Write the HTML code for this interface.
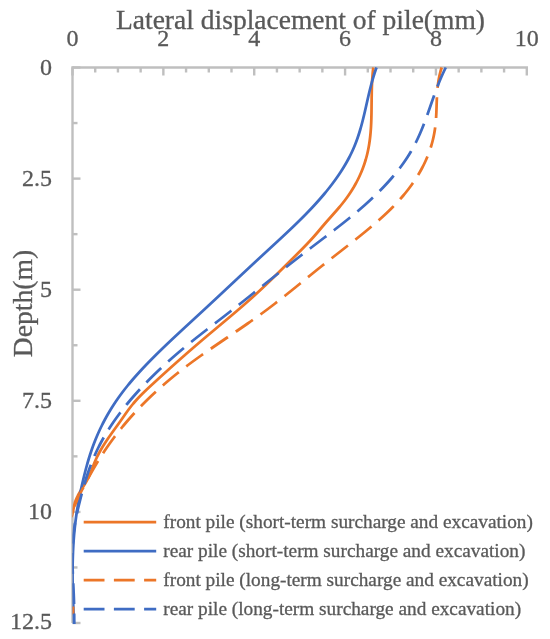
<!DOCTYPE html>
<html><head><meta charset="utf-8"><style>
html,body{margin:0;padding:0;background:#fff;}
svg{display:block;}
text{font-family:"Liberation Serif","Times New Roman",serif;fill:#595959;stroke:#595959;stroke-width:0.3px;}
.lg{font-size:19.3px;}
</style></head><body>
<svg width="550" height="639" viewBox="0 0 550 639">
<rect width="550" height="639" fill="#fff"/>
<g stroke="#BFBFBF" stroke-width="2.4" fill="none">
<line x1="72.5" y1="67.5" x2="528.0" y2="67.5"/>
<line x1="72.5" y1="66.3" x2="72.5" y2="623.0"/>
<line x1="72.50" y1="67.5" x2="72.50" y2="75.5"/><line x1="95.22" y1="67.5" x2="95.22" y2="72.5"/><line x1="117.93" y1="67.5" x2="117.93" y2="72.5"/><line x1="140.64" y1="67.5" x2="140.64" y2="72.5"/><line x1="163.36" y1="67.5" x2="163.36" y2="75.5"/><line x1="186.07" y1="67.5" x2="186.07" y2="72.5"/><line x1="208.79" y1="67.5" x2="208.79" y2="72.5"/><line x1="231.50" y1="67.5" x2="231.50" y2="72.5"/><line x1="254.22" y1="67.5" x2="254.22" y2="75.5"/><line x1="276.94" y1="67.5" x2="276.94" y2="72.5"/><line x1="299.65" y1="67.5" x2="299.65" y2="72.5"/><line x1="322.36" y1="67.5" x2="322.36" y2="72.5"/><line x1="345.08" y1="67.5" x2="345.08" y2="75.5"/><line x1="367.79" y1="67.5" x2="367.79" y2="72.5"/><line x1="390.51" y1="67.5" x2="390.51" y2="72.5"/><line x1="413.22" y1="67.5" x2="413.22" y2="72.5"/><line x1="435.94" y1="67.5" x2="435.94" y2="75.5"/><line x1="458.65" y1="67.5" x2="458.65" y2="72.5"/><line x1="481.37" y1="67.5" x2="481.37" y2="72.5"/><line x1="504.08" y1="67.5" x2="504.08" y2="72.5"/><line x1="526.80" y1="67.5" x2="526.80" y2="75.5"/><line x1="72.5" y1="67.50" x2="80.5" y2="67.50"/><line x1="72.5" y1="123.05" x2="77.5" y2="123.05"/><line x1="72.5" y1="178.60" x2="80.5" y2="178.60"/><line x1="72.5" y1="234.15" x2="77.5" y2="234.15"/><line x1="72.5" y1="289.70" x2="80.5" y2="289.70"/><line x1="72.5" y1="345.25" x2="77.5" y2="345.25"/><line x1="72.5" y1="400.80" x2="80.5" y2="400.80"/><line x1="72.5" y1="456.35" x2="77.5" y2="456.35"/><line x1="72.5" y1="511.90" x2="80.5" y2="511.90"/><line x1="72.5" y1="567.45" x2="77.5" y2="567.45"/><line x1="72.5" y1="623.00" x2="80.5" y2="623.00"/>
</g>
<g font-size="24"><text transform="translate(72.50,46.3)" text-anchor="middle">0</text><text transform="translate(163.36,46.3)" text-anchor="middle">2</text><text transform="translate(254.22,46.3)" text-anchor="middle">4</text><text transform="translate(345.08,46.3)" text-anchor="middle">6</text><text transform="translate(435.94,46.3)" text-anchor="middle">8</text><text transform="translate(526.80,46.3)" text-anchor="middle">10</text><text transform="translate(52.0,75.35)" text-anchor="end">0</text><text transform="translate(52.0,185.50)" text-anchor="end">2.5</text><text transform="translate(52.0,297.10)" text-anchor="end">5</text><text transform="translate(52.0,407.50)" text-anchor="end">7.5</text><text transform="translate(52.0,518.90)" text-anchor="end">10</text><text transform="translate(52.0,629.05)" text-anchor="end">12.5</text></g>
<text x="116" y="29" font-size="27" textLength="369" lengthAdjust="spacingAndGlyphs">Lateral displacement of pile(mm)</text>
<text transform="translate(32.1,357.2) rotate(-90)" font-size="27.6">Depth(m)</text>
<defs><clipPath id="pa"><rect x="72.5" y="40" width="480" height="586.0"/></clipPath></defs>
<g fill="none" stroke-width="2.75" stroke-linecap="butt" stroke-linejoin="round" clip-path="url(#pa)">
<path d="M373.33,67.50 L373.09,69.50 L372.87,71.50 L372.68,73.50 L372.51,75.50 L372.36,77.50 L372.22,79.50 L372.11,81.50 L372.01,83.50 L371.93,85.50 L371.86,87.50 L371.80,89.50 L371.75,91.50 L371.71,93.50 L371.68,95.50 L371.65,97.50 L371.63,99.50 L371.61,101.50 L371.59,103.50 L371.57,105.50 L371.55,107.50 L371.53,109.50 L371.50,111.50 L371.47,113.50 L371.43,115.50 L371.38,117.50 L371.32,119.50 L371.25,121.50 L371.17,123.50 L371.07,125.50 L370.96,127.50 L370.82,129.50 L370.67,131.50 L370.50,133.50 L370.31,135.50 L370.09,137.50 L369.85,139.50 L369.58,141.50 L369.29,143.50 L368.97,145.50 L368.61,147.50 L368.22,149.50 L367.80,151.50 L367.35,153.50 L366.86,155.50 L366.33,157.50 L365.77,159.50 L365.16,161.50 L364.52,163.50 L363.84,165.50 L363.12,167.50 L362.36,169.50 L361.56,171.50 L360.71,173.50 L359.82,175.50 L358.89,177.50 L357.91,179.50 L356.89,181.50 L355.82,183.50 L354.70,185.50 L353.54,187.50 L352.32,189.50 L351.06,191.50 L349.75,193.50 L348.38,195.50 L346.97,197.50 L345.50,199.50 L343.97,201.50 L342.40,203.50 L340.77,205.50 L339.09,207.50 L337.38,209.50 L335.64,211.50 L333.87,213.50 L332.10,215.50 L330.32,217.50 L328.54,219.50 L326.77,221.50 L325.03,223.50 L323.31,225.50 L321.62,227.50 L319.95,229.50 L318.27,231.50 L316.57,233.50 L314.83,235.50 L313.05,237.50 L311.23,239.50 L309.37,241.50 L307.49,243.50 L305.57,245.50 L303.63,247.50 L301.67,249.50 L299.69,251.50 L297.70,253.50 L295.70,255.50 L293.69,257.50 L291.67,259.50 L289.65,261.50 L287.64,263.50 L285.62,265.50 L283.60,267.50 L281.58,269.50 L279.56,271.50 L277.53,273.50 L275.50,275.50 L273.45,277.50 L271.40,279.50 L269.34,281.50 L267.26,283.50 L265.17,285.50 L263.06,287.50 L260.94,289.50 L258.79,291.50 L256.63,293.50 L254.45,295.50 L252.24,297.50 L250.01,299.50 L247.76,301.50 L245.49,303.50 L243.19,305.50 L240.88,307.50 L238.56,309.50 L236.22,311.50 L233.87,313.50 L231.50,315.50 L229.13,317.50 L226.75,319.50 L224.37,321.50 L221.98,323.50 L219.59,325.50 L217.20,327.50 L214.81,329.50 L212.42,331.50 L210.03,333.50 L207.65,335.50 L205.28,337.50 L202.92,339.50 L200.57,341.50 L198.23,343.50 L195.89,345.50 L193.57,347.50 L191.26,349.50 L188.96,351.50 L186.66,353.50 L184.38,355.50 L182.10,357.50 L179.84,359.50 L177.58,361.50 L175.33,363.50 L173.08,365.50 L170.85,367.50 L168.62,369.50 L166.40,371.50 L164.19,373.50 L161.98,375.50 L159.78,377.50 L157.59,379.50 L155.41,381.50 L153.23,383.50 L151.06,385.50 L148.91,387.50 L146.78,389.50 L144.69,391.50 L142.64,393.50 L140.65,395.50 L138.71,397.50 L136.85,399.50 L135.06,401.50 L133.35,403.50 L131.72,405.50 L130.15,407.50 L128.64,409.50 L127.18,411.50 L125.76,413.50 L124.36,415.50 L122.97,417.50 L121.58,419.50 L120.16,421.50 L118.73,423.50 L117.29,425.50 L115.84,427.50 L114.39,429.50 L112.95,431.50 L111.52,433.50 L110.10,435.50 L108.70,437.50 L107.34,439.50 L106.00,441.50 L104.70,443.50 L103.43,445.50 L102.21,447.50 L101.02,449.50 L99.89,451.50 L98.80,453.50 L97.76,455.50 L96.77,457.50 L95.84,459.50 L94.96,461.50 L94.14,463.50 L93.36,465.50 L92.59,467.50 L91.83,469.50 L91.05,471.50 L90.24,473.50 L89.37,475.50 L88.44,477.50 L87.42,479.50 L86.32,481.50 L85.14,483.50 L83.92,485.50 L82.67,487.50 L81.43,489.50 L80.21,491.50 L79.04,493.50 L77.93,495.50 L76.93,497.50 L76.04,499.50 L75.29,501.50 L74.69,503.50 L74.20,505.50 L73.77,507.50 L73.36,509.50 L72.95,511.50 L72.47,513.50 L71.90,515.50 L71.38,517.00" stroke="#EC7628"/><path d="M376.51,67.50 L375.80,69.50 L375.11,71.50 L374.45,73.50 L373.82,75.50 L373.21,77.50 L372.62,79.50 L372.05,81.50 L371.50,83.50 L370.97,85.50 L370.46,87.50 L369.96,89.50 L369.47,91.50 L368.99,93.50 L368.52,95.50 L368.06,97.50 L367.60,99.50 L367.15,101.50 L366.70,103.50 L366.25,105.50 L365.80,107.50 L365.34,109.50 L364.89,111.50 L364.42,113.50 L363.95,115.50 L363.46,117.50 L362.97,119.50 L362.46,121.50 L361.94,123.50 L361.40,125.50 L360.84,127.50 L360.27,129.50 L359.67,131.50 L359.05,133.50 L358.40,135.50 L357.73,137.50 L357.03,139.50 L356.30,141.50 L355.53,143.50 L354.74,145.50 L353.91,147.50 L353.04,149.50 L352.13,151.50 L351.19,153.50 L350.21,155.50 L349.18,157.50 L348.12,159.50 L347.02,161.50 L345.89,163.50 L344.71,165.50 L343.50,167.50 L342.26,169.50 L340.98,171.50 L339.66,173.50 L338.31,175.50 L336.92,177.50 L335.50,179.50 L334.04,181.50 L332.56,183.50 L331.03,185.50 L329.48,187.50 L327.89,189.50 L326.28,191.50 L324.63,193.50 L322.95,195.50 L321.23,197.50 L319.49,199.50 L317.72,201.50 L315.92,203.50 L314.09,205.50 L312.23,207.50 L310.34,209.50 L308.43,211.50 L306.49,213.50 L304.53,215.50 L302.54,217.50 L300.53,219.50 L298.50,221.50 L296.45,223.50 L294.39,225.50 L292.30,227.50 L290.21,229.50 L288.09,231.50 L285.97,233.50 L283.84,235.50 L281.70,237.50 L279.54,239.50 L277.39,241.50 L275.22,243.50 L273.06,245.50 L270.89,247.50 L268.72,249.50 L266.55,251.50 L264.38,253.50 L262.21,255.50 L260.05,257.50 L257.89,259.50 L255.74,261.50 L253.58,263.50 L251.44,265.50 L249.29,267.50 L247.15,269.50 L245.01,271.50 L242.87,273.50 L240.73,275.50 L238.59,277.50 L236.45,279.50 L234.32,281.50 L232.18,283.50 L230.05,285.50 L227.91,287.50 L225.78,289.50 L223.64,291.50 L221.50,293.50 L219.36,295.50 L217.22,297.50 L215.08,299.50 L212.93,301.50 L210.78,303.50 L208.63,305.50 L206.48,307.50 L204.32,309.50 L202.16,311.50 L199.99,313.50 L197.83,315.50 L195.65,317.50 L193.48,319.50 L191.31,321.50 L189.14,323.50 L186.97,325.50 L184.80,327.50 L182.64,329.50 L180.48,331.50 L178.33,333.50 L176.18,335.50 L174.04,337.50 L171.91,339.50 L169.79,341.50 L167.69,343.50 L165.59,345.50 L163.51,347.50 L161.44,349.50 L159.38,351.50 L157.34,353.50 L155.32,355.50 L153.32,357.50 L151.34,359.50 L149.37,361.50 L147.43,363.50 L145.51,365.50 L143.61,367.50 L141.74,369.50 L139.89,371.50 L138.07,373.50 L136.27,375.50 L134.50,377.50 L132.77,379.50 L131.06,381.50 L129.38,383.50 L127.74,385.50 L126.13,387.50 L124.55,389.50 L123.01,391.50 L121.51,393.50 L120.03,395.50 L118.60,397.50 L117.19,399.50 L115.82,401.50 L114.49,403.50 L113.18,405.50 L111.91,407.50 L110.67,409.50 L109.46,411.50 L108.28,413.50 L107.13,415.50 L106.02,417.50 L104.93,419.50 L103.87,421.50 L102.83,423.50 L101.83,425.50 L100.85,427.50 L99.90,429.50 L98.98,431.50 L98.08,433.50 L97.21,435.50 L96.37,437.50 L95.54,439.50 L94.75,441.50 L93.97,443.50 L93.22,445.50 L92.50,447.50 L91.79,449.50 L91.11,451.50 L90.44,453.50 L89.80,455.50 L89.17,457.50 L88.56,459.50 L87.97,461.50 L87.39,463.50 L86.83,465.50 L86.28,467.50 L85.75,469.50 L85.23,471.50 L84.72,473.50 L84.22,475.50 L83.73,477.50 L83.25,479.50 L82.78,481.50 L82.32,483.50 L81.86,485.50 L81.42,487.50 L80.99,489.50 L80.56,491.50 L80.14,493.50 L79.74,495.50 L79.34,497.50 L78.96,499.50 L78.59,501.50 L78.22,503.50 L77.87,505.50 L77.53,507.50 L77.20,509.50 L76.89,511.50 L76.58,513.50 L76.29,515.50 L76.01,517.50 L75.75,519.50 L75.49,521.50 L75.25,523.50 L75.02,525.50 L74.80,527.50 L74.60,529.50 L74.40,531.50 L74.22,533.50 L74.04,535.50 L73.88,537.50 L73.73,539.50 L73.59,541.50 L73.46,543.50 L73.33,545.50 L73.22,547.50 L73.12,549.50 L73.02,551.50 L72.94,553.50 L72.87,555.50 L72.80,557.50 L72.74,559.50 L72.69,561.50 L72.65,563.50 L72.61,565.50 L72.59,567.50 L72.57,569.50 L72.56,571.50 L72.55,573.50 L72.55,575.50 L72.56,577.50 L72.58,579.50 L72.60,581.50 L72.63,583.50 L72.66,585.50 L72.70,587.50 L72.75,589.50 L72.80,591.50 L72.85,593.50 L72.91,595.50 L72.98,597.50 L73.05,599.50 L73.12,601.50 L73.20,603.50 L73.28,605.50 L73.36,607.50 L73.45,609.50 L73.54,611.50 L73.64,613.50 L73.74,615.50 L73.84,617.50 L73.94,619.50 L74.05,621.50 L74.15,623.50 L74.18,624.00" stroke="#3F6CC3"/>
<line x1="73.1" y1="606.5" x2="73.1" y2="614.5" stroke="#EC7628"/>
<path d="M441.70,67.50 L441.06,69.50 L440.48,71.50 L439.96,73.50 L439.49,75.50 L439.08,77.50 L438.70,79.50 L438.38,81.50 L438.09,83.50 L437.83,85.50 L437.62,87.50 L437.43,89.50 L437.27,91.50 L437.13,93.50 L437.01,95.50 L436.91,97.50 L436.82,99.50 L436.74,101.50 L436.67,103.50 L436.60,105.50 L436.54,107.50 L436.47,109.50 L436.39,111.50 L436.31,113.50 L436.21,115.50 L436.10,117.50 L435.96,119.50 L435.81,121.50 L435.63,123.50 L435.42,125.50 L435.17,127.50 L434.89,129.50 L434.58,131.50 L434.23,133.50 L433.84,135.50 L433.42,137.50 L432.96,139.50 L432.46,141.50 L431.92,143.50 L431.34,145.50 L430.73,147.50 L430.07,149.50 L429.38,151.50 L428.64,153.50 L427.87,155.50 L427.06,157.50 L426.20,159.50 L425.30,161.50 L424.36,163.50 L423.38,165.50 L422.35,167.50 L421.29,169.50 L420.18,171.50 L419.02,173.50 L417.82,175.50 L416.58,177.50 L415.29,179.50 L413.96,181.50 L412.58,183.50 L411.15,185.50 L409.68,187.50 L408.16,189.50 L406.59,191.50 L404.98,193.50 L403.32,195.50 L401.61,197.50 L399.85,199.50 L398.04,201.50 L396.19,203.50 L394.28,205.50 L392.32,207.50 L390.32,209.50 L388.26,211.50 L386.16,213.50 L384.01,215.50 L381.81,217.50 L379.58,219.50 L377.31,221.50 L375.00,223.50 L372.66,225.50 L370.29,227.50 L367.89,229.50 L365.47,231.50 L363.02,233.50 L360.55,235.50 L358.06,237.50 L355.55,239.50 L353.02,241.50 L350.49,243.50 L347.94,245.50 L345.39,247.50 L342.83,249.50 L340.27,251.50 L337.71,253.50 L335.15,255.50 L332.59,257.50 L330.04,259.50 L327.49,261.50 L324.96,263.50 L322.45,265.50 L319.94,267.50 L317.45,269.50 L314.97,271.50 L312.50,273.50 L310.03,275.50 L307.57,277.50 L305.11,279.50 L302.65,281.50 L300.19,283.50 L297.73,285.50 L295.26,287.50 L292.78,289.50 L290.30,291.50 L287.80,293.50 L285.29,295.50 L282.76,297.50 L280.22,299.50 L277.66,301.50 L275.07,303.50 L272.47,305.50 L269.83,307.50 L267.18,309.50 L264.49,311.50 L261.77,313.50 L259.01,315.50 L256.23,317.50 L253.41,319.50 L250.57,321.50 L247.71,323.50 L244.83,325.50 L241.92,327.50 L239.01,329.50 L236.08,331.50 L233.15,333.50 L230.21,335.50 L227.26,337.50 L224.32,339.50 L221.38,341.50 L218.45,343.50 L215.52,345.50 L212.61,347.50 L209.71,349.50 L206.83,351.50 L203.97,353.50 L201.14,355.50 L198.33,357.50 L195.55,359.50 L192.80,361.50 L190.09,363.50 L187.41,365.50 L184.78,367.50 L182.18,369.50 L179.62,371.50 L177.10,373.50 L174.62,375.50 L172.17,377.50 L169.76,379.50 L167.38,381.50 L165.04,383.50 L162.74,385.50 L160.47,387.50 L158.24,389.50 L156.04,391.50 L153.88,393.50 L151.74,395.50 L149.65,397.50 L147.58,399.50 L145.55,401.50 L143.55,403.50 L141.58,405.50 L139.64,407.50 L137.73,409.50 L135.86,411.50 L134.01,413.50 L132.19,415.50 L130.41,417.50 L128.65,419.50 L126.92,421.50 L125.22,423.50 L123.54,425.50 L121.90,427.50 L120.28,429.50 L118.69,431.50 L117.13,433.50 L115.59,435.50 L114.07,437.50 L112.59,439.50 L111.12,441.50 L109.68,443.50 L108.27,445.50 L106.88,447.50 L105.51,449.50 L104.17,451.50 L102.85,453.50 L101.55,455.50 L100.28,457.50 L99.02,459.50 L97.78,461.50 L96.57,463.50 L95.37,465.50 L94.19,467.50 L93.03,469.50 L91.89,471.50 L90.76,473.50 L89.65,475.50 L88.56,477.50 L87.48,479.50 L86.41,481.50 L85.36,483.50 L84.32,485.50 L83.29,487.50 L82.27,489.50 L81.26,491.50 L80.27,493.50 L79.30,495.50 L78.34,497.50 L77.42,499.50 L76.53,501.50 L75.67,503.50 L74.86,505.50 L74.09,507.50 L73.37,509.50 L72.70,511.50 L72.10,513.50 L71.56,515.50 L71.19,517.00" stroke="#EC7628" stroke-dasharray="20.8 9.4"/><path d="M445.79,67.50 L444.79,69.50 L443.83,71.50 L442.90,73.50 L442.00,75.50 L441.12,77.50 L440.27,79.50 L439.44,81.50 L438.63,83.50 L437.84,85.50 L437.07,87.50 L436.31,89.50 L435.57,91.50 L434.84,93.50 L434.12,95.50 L433.41,97.50 L432.70,99.50 L432.00,101.50 L431.30,103.50 L430.61,105.50 L429.91,107.50 L429.21,109.50 L428.51,111.50 L427.80,113.50 L427.09,115.50 L426.36,117.50 L425.63,119.50 L424.88,121.50 L424.11,123.50 L423.34,125.50 L422.54,127.50 L421.72,129.50 L420.89,131.50 L420.03,133.50 L419.14,135.50 L418.23,137.50 L417.29,139.50 L416.32,141.50 L415.31,143.50 L414.28,145.50 L413.20,147.50 L412.09,149.50 L410.95,151.50 L409.76,153.50 L408.53,155.50 L407.25,157.50 L405.93,159.50 L404.57,161.50 L403.16,163.50 L401.72,165.50 L400.23,167.50 L398.69,169.50 L397.12,171.50 L395.51,173.50 L393.85,175.50 L392.15,177.50 L390.41,179.50 L388.64,181.50 L386.82,183.50 L384.96,185.50 L383.06,187.50 L381.12,189.50 L379.15,191.50 L377.14,193.50 L375.08,195.50 L372.99,197.50 L370.86,199.50 L368.70,201.50 L366.50,203.50 L364.26,205.50 L361.98,207.50 L359.67,209.50 L357.32,211.50 L354.94,213.50 L352.52,215.50 L350.07,217.50 L347.60,219.50 L345.10,221.50 L342.58,223.50 L340.03,225.50 L337.47,227.50 L334.89,229.50 L332.30,231.50 L329.70,233.50 L327.09,235.50 L324.47,237.50 L321.84,239.50 L319.22,241.50 L316.60,243.50 L313.98,245.50 L311.36,247.50 L308.75,249.50 L306.16,251.50 L303.57,253.50 L300.99,255.50 L298.41,257.50 L295.85,259.50 L293.29,261.50 L290.74,263.50 L288.19,265.50 L285.65,267.50 L283.12,269.50 L280.59,271.50 L278.07,273.50 L275.55,275.50 L273.03,277.50 L270.52,279.50 L268.01,281.50 L265.51,283.50 L263.01,285.50 L260.51,287.50 L258.01,289.50 L255.51,291.50 L253.01,293.50 L250.51,295.50 L248.01,297.50 L245.50,299.50 L242.99,301.50 L240.47,303.50 L237.94,305.50 L235.40,307.50 L232.86,309.50 L230.30,311.50 L227.73,313.50 L225.15,315.50 L222.57,317.50 L219.97,319.50 L217.37,321.50 L214.77,323.50 L212.18,325.50 L209.58,327.50 L206.99,329.50 L204.42,331.50 L201.85,333.50 L199.30,335.50 L196.76,337.50 L194.24,339.50 L191.75,341.50 L189.28,343.50 L186.83,345.50 L184.41,347.50 L182.02,349.50 L179.65,351.50 L177.31,353.50 L174.99,355.50 L172.70,357.50 L170.44,359.50 L168.20,361.50 L165.99,363.50 L163.81,365.50 L161.65,367.50 L159.52,369.50 L157.42,371.50 L155.34,373.50 L153.29,375.50 L151.27,377.50 L149.27,379.50 L147.31,381.50 L145.36,383.50 L143.45,385.50 L141.57,387.50 L139.71,389.50 L137.88,391.50 L136.08,393.50 L134.30,395.50 L132.56,397.50 L130.84,399.50 L129.15,401.50 L127.49,403.50 L125.86,405.50 L124.26,407.50 L122.69,409.50 L121.14,411.50 L119.62,413.50 L118.14,415.50 L116.68,417.50 L115.25,419.50 L113.85,421.50 L112.48,423.50 L111.14,425.50 L109.83,427.50 L108.55,429.50 L107.30,431.50 L106.08,433.50 L104.89,435.50 L103.73,437.50 L102.60,439.50 L101.50,441.50 L100.43,443.50 L99.39,445.50 L98.38,447.50 L97.40,449.50 L96.46,451.50 L95.54,453.50 L94.65,455.50 L93.79,457.50 L92.95,459.50 L92.14,461.50 L91.35,463.50 L90.59,465.50 L89.85,467.50 L89.13,469.50 L88.43,471.50 L87.75,473.50 L87.09,475.50 L86.45,477.50 L85.82,479.50 L85.21,481.50 L84.62,483.50 L84.03,485.50 L83.47,487.50 L82.91,489.50 L82.36,491.50 L81.83,493.50 L81.30,495.50 L80.78,497.50 L80.27,499.50 L79.77,501.50 L79.27,503.50 L78.78,505.50 L78.30,507.50 L77.83,509.50 L77.37,511.50 L76.93,513.50 L76.50,515.50 L76.09,517.50 L75.70,519.50 L75.32,521.50 L74.97,523.50 L74.64,525.50 L74.33,527.50 L74.04,529.50 L73.78,531.50 L73.55,533.50 L73.34,535.50 L73.16,537.50 L73.00,539.50 L72.86,541.50 L72.74,543.50 L72.64,545.50 L72.56,547.50 L72.50,549.50 L72.45,551.50 L72.42,553.50 L72.41,555.50 L72.41,557.50 L72.42,559.50 L72.45,561.50 L72.48,563.50 L72.53,565.50 L72.58,567.50 L72.65,569.50 L72.72,571.50 L72.79,573.50 L72.87,575.50 L72.96,577.50 L73.05,579.50 L73.14,581.50 L73.24,583.50 L73.33,585.50 L73.42,587.50 L73.51,589.50 L73.60,591.50 L73.69,593.50 L73.77,595.50 L73.85,597.50 L73.92,599.50 L73.98,601.50 L74.03,603.50 L74.08,605.50 L74.11,607.50 L74.14,609.50 L74.15,611.50 L74.15,613.50 L74.13,615.50 L74.10,617.50 L74.05,619.50 L73.99,621.50 L73.91,623.50 L73.88,624.00" stroke="#3F6CC3" stroke-dasharray="20.8 9.4"/>
</g>
<g stroke-width="2.75"><line x1="83.7" y1="522" x2="156.2" y2="522" stroke="#EC7628"/><text x="163.3" y="527.5" class="lg">front pile (short-term surcharge and excavation)</text><line x1="83.7" y1="551" x2="156.2" y2="551" stroke="#3F6CC3"/><text x="163.3" y="556.5" class="lg">rear pile (short-term surcharge and excavation)</text><line x1="83.7" y1="580" x2="156.2" y2="580" stroke="#EC7628" stroke-dasharray="20.8 9.4"/><text x="163.3" y="585.5" class="lg">front pile (long-term surcharge and excavation)</text><line x1="83.7" y1="609" x2="156.2" y2="609" stroke="#3F6CC3" stroke-dasharray="20.8 9.4"/><text x="163.3" y="614.5" class="lg">rear pile (long-term surcharge and excavation)</text></g>
</svg>
</body></html>
